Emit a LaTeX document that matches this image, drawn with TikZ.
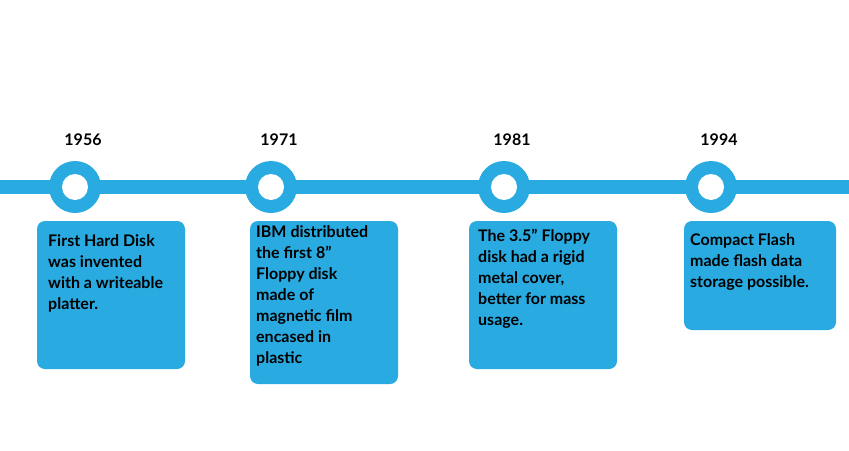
\documentclass[tikz,border=0pt]{standalone}
\usepackage{fontspec}
\setmainfont{Lato}
\definecolor{tlblue}{HTML}{29ABE2}
\begin{document}
\begin{tikzpicture}[x=1pt,y=1pt,
  evbox/.style={fill=tlblue,rounded corners=8pt},
  evtext/.style={anchor=north west,align=left,font=\fontsize{16}{21}\selectfont\bfseries,inner sep=0pt},
  yeartext/.style={font=\fontsize{16}{19}\selectfont\bfseries},
  ring/.style={circle,fill=tlblue,minimum size=52pt,inner sep=0pt},
  hole/.style={circle,fill=white,minimum size=26pt,inner sep=0pt}]
\useasboundingbox (0,0) rectangle (849,-450);
\fill[white] (0,0) rectangle (849,-450);
\coordinate (L) at (0,-187);
\coordinate (R) at (849,-187);
\draw[tlblue,line width=14pt] (L) -- (R);
\foreach \n/\x/\yr in {a/75/1956,b/271/1971,c/504/1981,d/711/1994}{
  \node[ring] (r\n) at (\x,-187) {};
  \node[hole] at (r\n) {};
  \node[yeartext] (y\n) at (\x+8,-140) {\yr};
}
\fill[evbox] (37,-221) rectangle (185,-369);
\fill[evbox] (250,-221) rectangle (398,-384);
\fill[evbox] (469,-221) rectangle (617,-369);
\fill[evbox] (684,-221) rectangle (836,-330);
\node[evtext] (ta) at (48,-234) {First Hard Disk\\was invented\\with a writeable\\platter.};
\node[evtext] (tb) at (256,-225) {IBM distributed\\the first 8\textquotedblright\\Floppy disk\\made of\\magnetic film\\encased in\\plastic};
\node[evtext] (tc) at (478,-229) {The 3.5\textquotedblright\ Floppy\\disk had a rigid\\metal cover,\\better for mass\\usage.};
\node[evtext] (td) at (690,-233) {Compact Flash\\made flash data\\storage possible.};
\end{tikzpicture}
\end{document}
